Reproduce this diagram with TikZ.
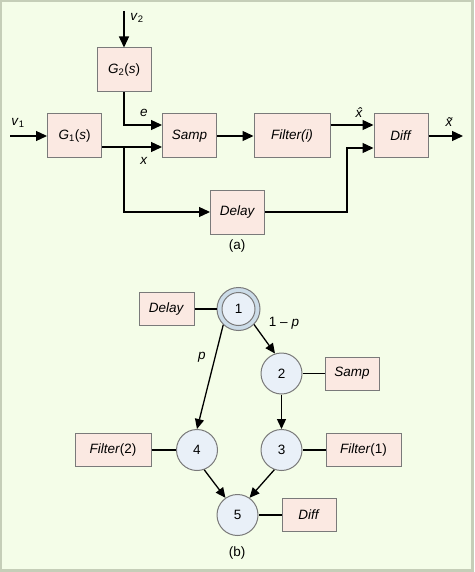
\documentclass[tikz,border=0pt]{standalone}
\usepackage{fontspec}
\setmainfont{Liberation Sans}
\usetikzlibrary{arrows.meta}
\definecolor{bg}{HTML}{F4FDE8}
\definecolor{frame}{HTML}{C5CEB8}
\definecolor{boxfill}{HTML}{FBE9E2}
\definecolor{boxdraw}{HTML}{7A7A7A}
\definecolor{circfill}{HTML}{E9F0F8}
\definecolor{ringfill}{HTML}{CCDCE8}
\begin{document}
\begin{tikzpicture}[x=1pt,y=-1pt,
  font=\fontsize{13.5}{15}\selectfont,
  blk/.style={draw=boxdraw, fill=boxfill, line width=1pt, minimum width=54pt, minimum height=44pt, inner sep=0pt},
  tag/.style={draw=boxdraw, fill=boxfill, line width=1pt, minimum width=54pt, minimum height=33pt, inner sep=0pt},
  st/.style={circle, draw=boxdraw, fill=circfill, line width=1pt, minimum size=41pt, inner sep=0pt},
  arr/.style={-{Triangle[length=11pt,width=10pt]}, line width=1.3pt, black},
  barr/.style={-{Triangle[length=10pt,width=9pt]}, line width=1.3pt, black},
  ln/.style={line width=1.3pt, black},
  lbl/.style={inner sep=0pt}]
\useasboundingbox (0,0) rectangle (474,572);
\fill[frame] (0,0) rectangle (474,572);
\fill[bg] (2,2) rectangle (471,569);

% ---------- (a) ----------
\node[blk] (g2) at (124,70) {\textit{G}\textsubscript{2}(\textit{s})};
\node[blk] (g1) at (74.5,136) {\textit{G}\textsubscript{1}(\textit{s})};
\node[blk] (samp) at (189.5,136) {\textit{Samp}};
\node[blk, minimum width=76pt] (filt) at (292,136) {\textit{Filter(i)}};
\node[blk] (diff) at (401,136) {\textit{Diff}};
\node[blk] (delay) at (237.5,212) {\textit{Delay}};

\coordinate (v2s) at (124,11);
\coordinate (v1s) at (10,136);
\coordinate (out) at (463,136);
\coordinate (br) at (124,147);
\coordinate (dl) at (347,212);

\draw[arr] (v2s) -- (g2.north);
\draw[arr] (v1s) -- (g1.west);
\draw[arr] (g2.south) |- ([yshift=11pt]samp.west);
\draw[arr] ([yshift=-11pt]g1.east) -- ([yshift=-11pt]samp.west);
\draw[arr] (br) |- (delay.west);
\draw[arr] (samp.east) -- (filt.west);
\draw[arr] ([yshift=11pt]filt.east) -- ([yshift=11pt]diff.west);
\draw[arr] (delay.east) -- (dl) |- ([yshift=-12pt]diff.west);
\draw[arr] (diff.east) -- (out);

\node[lbl] (lv2) at (137,18) {\textit{v}\textsubscript{2}};
\node[lbl] (lv1) at (18,123) {\textit{v}\textsubscript{1}};
\node[lbl] (le) at (144,113) {\textit{e}};
\node[lbl] (lx) at (144,161) {\textit{x}};
\node[lbl] (lxh) at (360,113) {\textit{\^x}};
\node[lbl] (lxt) at (449,122) {\textit{\~x}};
\node[lbl] (la) at (237,246) {(a)};

% ---------- (b) ----------
\node[st, fill=ringfill, minimum size=43pt] (n1) at (238.5,309) {};
\node[st, minimum size=33pt] (n1in) at (n1) {1};
\node[st] (n2) at (281.5,373.5) {2};
\node[st] (n3) at (281.5,450) {3};
\node[st] (n4) at (197,450) {4};
\node[st] (n5) at (237.5,515) {5};

\node[tag, minimum width=55pt] (tdelay) at (166.5,309) {\textit{Delay}};
\node[tag] (tsamp) at (352,373.5) {\textit{Samp}};
\node[tag, minimum width=76pt] (tf2) at (113,450) {\textit{Filter}(2)};
\node[tag, minimum width=75pt] (tf1) at (363.5,450) {\textit{Filter}(1)};
\node[tag] (tdiff) at (309,515) {\textit{Diff}};

\draw[ln] (tdelay.east) -- (n1.west);
\draw[ln] (tsamp.west) -- (n2.east);
\draw[ln] (tf2.east) -- (n4.west);
\draw[ln] (tf1.west) -- (n3.east);
\draw[ln] (tdiff.west) -- (n5.east);

\draw[barr] (n1.-45) -- (n2.108);
\draw[barr] (n1.226) -- (n4.north);
\draw[barr] (n2.south) -- (n3.north);
\draw[barr] (n4.-70) -- (n5.125);
\draw[barr] (n3.-110) -- (n5.55);

\node[lbl] (lp) at (202,357) {\textit{p}};
\node[lbl] (l1p) at (284,323) {1 – \textit{p}};
\node[lbl] (lb) at (237,553) {(b)};
\end{tikzpicture}
\end{document}
